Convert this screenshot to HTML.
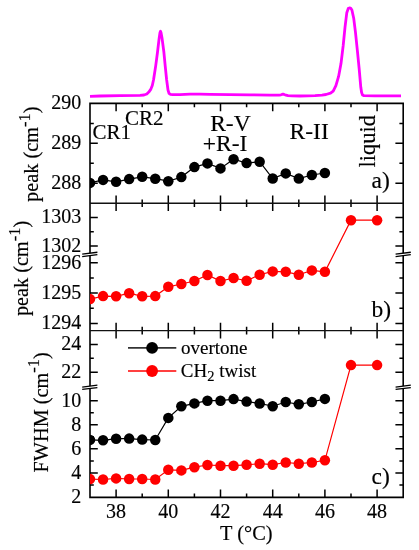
<!DOCTYPE html><html><head><meta charset="utf-8"><title>Plot</title><style>html,body{margin:0;padding:0;background:#fff;width:419px;height:550px;overflow:hidden}svg{display:block}</style></head><body><svg width="419" height="550" viewBox="0 0 419 550" font-family="'Liberation Serif', 'Times New Roman', serif" fill="#000"><style>text{stroke:#000;stroke-width:0.15px}</style><defs><clipPath id="clip"><rect x="90.0" y="103.4" width="313.2" height="394.0"/></clipPath></defs><rect width="419" height="550" fill="#fff"/><path d="M90.0,96.4 L100.0,96.0 L120.0,95.6 L140.0,95.3 L144.0,95.0 L146.8,94.0 L148.8,92.1 L150.9,89.1 L152.3,85.5 L153.6,79.5 L155.7,65.9 L157.5,52.3 L159.1,38.6 L160.0,32.5 L160.5,31.3 L161.0,32.5 L162.1,38.6 L163.9,52.3 L165.2,65.9 L166.6,79.5 L168.0,90.0 L169.0,93.3 L170.5,94.4 L172.7,94.6 L180.0,94.6 L190.0,94.2 L200.0,94.1 L210.0,94.3 L230.0,94.6 L250.0,94.9 L270.0,95.1 L279.0,95.1 L281.0,94.8 L283.0,94.1 L285.0,94.8 L288.0,95.6 L292.0,95.9 L300.0,96.0 L315.0,95.6 L322.0,95.1 L326.0,94.5 L330.5,93.2 L333.2,91.2 L335.9,85.7 L338.6,76.4 L341.0,63.6 L343.2,45.5 L345.0,27.3 L346.8,12.7 L348.2,8.6 L349.5,7.9 L350.8,8.4 L351.9,10.0 L353.7,18.2 L355.5,32.7 L357.4,50.9 L359.2,69.1 L360.8,87.3 L361.6,92.5 L362.5,94.9 L364.1,95.7 L375.0,95.8 L401.0,95.8" fill="none" stroke="#ff00ff" stroke-width="2.8" stroke-linejoin="round" stroke-linecap="butt"/>
<path d="M116.10,103.40V111.20M116.10,195.50V211.10M116.10,322.85V338.45M116.10,489.60V497.40M142.20,103.40V107.20M142.20,199.50V207.10M142.20,326.85V334.45M142.20,493.60V497.40M168.30,103.40V111.20M168.30,195.50V211.10M168.30,322.85V338.45M168.30,489.60V497.40M194.40,103.40V107.20M194.40,199.50V207.10M194.40,326.85V334.45M194.40,493.60V497.40M220.50,103.40V111.20M220.50,195.50V211.10M220.50,322.85V338.45M220.50,489.60V497.40M246.60,103.40V107.20M246.60,199.50V207.10M246.60,326.85V334.45M246.60,493.60V497.40M272.70,103.40V111.20M272.70,195.50V211.10M272.70,322.85V338.45M272.70,489.60V497.40M298.80,103.40V107.20M298.80,199.50V207.10M298.80,326.85V334.45M298.80,493.60V497.40M324.90,103.40V111.20M324.90,195.50V211.10M324.90,322.85V338.45M324.90,489.60V497.40M351.00,103.40V107.20M351.00,199.50V207.10M351.00,326.85V334.45M351.00,493.60V497.40M377.10,103.40V111.20M377.10,195.50V211.10M377.10,322.85V338.45M377.10,489.60V497.40M90.00,123.38H93.80M399.40,123.38H403.20M90.00,143.35H97.80M395.40,143.35H403.20M90.00,163.33H93.80M399.40,163.33H403.20M90.00,183.30H97.80M395.40,183.30H403.20M90.00,217.50H97.80M395.40,217.50H403.20M90.00,231.70H93.80M399.40,231.70H403.20M90.00,245.90H97.80M395.40,245.90H403.20M90.00,262.80H97.80M395.40,262.80H403.20M90.00,277.95H93.80M399.40,277.95H403.20M90.00,293.10H97.80M395.40,293.10H403.20M90.00,308.25H93.80M399.40,308.25H403.20M90.00,323.40H97.80M395.40,323.40H403.20M90.00,344.40H97.80M395.40,344.40H403.20M90.00,358.35H93.80M399.40,358.35H403.20M90.00,372.30H97.80M395.40,372.30H403.20M90.00,400.70H97.80M395.40,400.70H403.20M90.00,412.74H93.80M399.40,412.74H403.20M90.00,424.78H97.80M395.40,424.78H403.20M90.00,436.82H93.80M399.40,436.82H403.20M90.00,448.86H97.80M395.40,448.86H403.20M90.00,460.90H93.80M399.40,460.90H403.20M90.00,472.94H97.80M395.40,472.94H403.20M90.00,484.98H93.80M399.40,484.98H403.20" stroke="#000" stroke-width="1.5" fill="none"/>
<path d="M90.0,103.4H403.2V497.4H90.0Z" stroke="#000" stroke-width="1.6" fill="none"/>
<path d="M90.0,203.3H403.2 M90.0,330.65H403.2" stroke="#111" stroke-width="1.4" fill="none"/>
<polygon points="82.2,254.15 97.39999999999999,252.25000000000003 97.39999999999999,254.65 82.2,256.55" fill="#fff"/>
<path d="M82.2,254.15L97.39999999999999,252.25000000000003M82.2,256.55L97.39999999999999,254.65" stroke="#000" stroke-width="1.35" fill="none"/>
<polygon points="395.59999999999997,254.15 410.8,252.25000000000003 410.8,254.65 395.59999999999997,256.55" fill="#fff"/>
<path d="M395.59999999999997,254.15L410.8,252.25000000000003M395.59999999999997,256.55L410.8,254.65" stroke="#000" stroke-width="1.35" fill="none"/>
<polygon points="82.2,387.05 97.39999999999999,385.15000000000003 97.39999999999999,387.55 82.2,389.45" fill="#fff"/>
<path d="M82.2,387.05L97.39999999999999,385.15000000000003M82.2,389.45L97.39999999999999,387.55" stroke="#000" stroke-width="1.35" fill="none"/>
<polygon points="395.59999999999997,387.05 410.8,385.15000000000003 410.8,387.55 395.59999999999997,389.45" fill="#fff"/>
<path d="M395.59999999999997,387.05L410.8,385.15000000000003M395.59999999999997,389.45L410.8,387.55" stroke="#000" stroke-width="1.35" fill="none"/>
<g clip-path="url(#clip)" fill="#000"><path d="M90.00,182.90 L103.05,179.90 L116.10,181.80 L129.15,179.10 L142.20,176.80 L155.25,178.70 L168.30,181.20 L181.35,177.10 L194.40,167.10 L207.45,163.40 L220.50,168.40 L233.55,159.20 L246.60,163.10 L259.65,161.70 L272.70,178.50 L285.75,173.40 L298.80,178.60 L311.85,175.00 L324.90,173.00" fill="none" stroke="#000" stroke-width="1.2"/><circle cx="90.00" cy="182.90" r="5.25"/><circle cx="103.05" cy="179.90" r="5.25"/><circle cx="116.10" cy="181.80" r="5.25"/><circle cx="129.15" cy="179.10" r="5.25"/><circle cx="142.20" cy="176.80" r="5.25"/><circle cx="155.25" cy="178.70" r="5.25"/><circle cx="168.30" cy="181.20" r="5.25"/><circle cx="181.35" cy="177.10" r="5.25"/><circle cx="194.40" cy="167.10" r="5.25"/><circle cx="207.45" cy="163.40" r="5.25"/><circle cx="220.50" cy="168.40" r="5.25"/><circle cx="233.55" cy="159.20" r="5.25"/><circle cx="246.60" cy="163.10" r="5.25"/><circle cx="259.65" cy="161.70" r="5.25"/><circle cx="272.70" cy="178.50" r="5.25"/><circle cx="285.75" cy="173.40" r="5.25"/><circle cx="298.80" cy="178.60" r="5.25"/><circle cx="311.85" cy="175.00" r="5.25"/><circle cx="324.90" cy="173.00" r="5.25"/></g>
<g clip-path="url(#clip)" fill="#ff0000"><path d="M90.00,299.10 L103.05,296.10 L116.10,296.30 L129.15,293.20 L142.20,296.30 L155.25,296.10 L168.30,286.80 L181.35,284.00 L194.40,281.00 L207.45,275.00 L220.50,281.00 L233.55,278.00 L246.60,280.80 L259.65,274.70 L272.70,271.40 L285.75,271.80 L298.80,274.70 L311.85,270.40 L324.90,271.80 L351.00,220.20 L377.10,220.20" fill="none" stroke="#ff0000" stroke-width="1.2"/><circle cx="90.00" cy="299.10" r="5.25"/><circle cx="103.05" cy="296.10" r="5.25"/><circle cx="116.10" cy="296.30" r="5.25"/><circle cx="129.15" cy="293.20" r="5.25"/><circle cx="142.20" cy="296.30" r="5.25"/><circle cx="155.25" cy="296.10" r="5.25"/><circle cx="168.30" cy="286.80" r="5.25"/><circle cx="181.35" cy="284.00" r="5.25"/><circle cx="194.40" cy="281.00" r="5.25"/><circle cx="207.45" cy="275.00" r="5.25"/><circle cx="220.50" cy="281.00" r="5.25"/><circle cx="233.55" cy="278.00" r="5.25"/><circle cx="246.60" cy="280.80" r="5.25"/><circle cx="259.65" cy="274.70" r="5.25"/><circle cx="272.70" cy="271.40" r="5.25"/><circle cx="285.75" cy="271.80" r="5.25"/><circle cx="298.80" cy="274.70" r="5.25"/><circle cx="311.85" cy="270.40" r="5.25"/><circle cx="324.90" cy="271.80" r="5.25"/><circle cx="351.00" cy="220.20" r="5.25"/><circle cx="377.10" cy="220.20" r="5.25"/></g>
<g clip-path="url(#clip)" fill="#000"><path d="M90.00,439.90 L103.05,440.30 L116.10,438.70 L129.15,438.60 L142.20,439.60 L155.25,440.00 L168.30,417.90 L181.35,406.30 L194.40,403.40 L207.45,400.70 L220.50,400.70 L233.55,399.10 L246.60,401.60 L259.65,403.50 L272.70,406.20 L285.75,402.00 L298.80,404.30 L311.85,402.00 L324.90,398.90" fill="none" stroke="#000" stroke-width="1.2"/><circle cx="90.00" cy="439.90" r="5.25"/><circle cx="103.05" cy="440.30" r="5.25"/><circle cx="116.10" cy="438.70" r="5.25"/><circle cx="129.15" cy="438.60" r="5.25"/><circle cx="142.20" cy="439.60" r="5.25"/><circle cx="155.25" cy="440.00" r="5.25"/><circle cx="168.30" cy="417.90" r="5.25"/><circle cx="181.35" cy="406.30" r="5.25"/><circle cx="194.40" cy="403.40" r="5.25"/><circle cx="207.45" cy="400.70" r="5.25"/><circle cx="220.50" cy="400.70" r="5.25"/><circle cx="233.55" cy="399.10" r="5.25"/><circle cx="246.60" cy="401.60" r="5.25"/><circle cx="259.65" cy="403.50" r="5.25"/><circle cx="272.70" cy="406.20" r="5.25"/><circle cx="285.75" cy="402.00" r="5.25"/><circle cx="298.80" cy="404.30" r="5.25"/><circle cx="311.85" cy="402.00" r="5.25"/><circle cx="324.90" cy="398.90" r="5.25"/></g>
<g clip-path="url(#clip)" fill="#ff0000"><path d="M90.00,479.10 L103.05,479.50 L116.10,478.40 L129.15,479.00 L142.20,479.00 L155.25,479.50 L168.30,469.80 L181.35,470.40 L194.40,467.20 L207.45,465.00 L220.50,465.70 L233.55,465.70 L246.60,464.80 L259.65,463.70 L272.70,464.70 L285.75,462.50 L298.80,463.70 L311.85,462.50 L324.90,460.30 L351.00,365.10 L377.10,365.10" fill="none" stroke="#ff0000" stroke-width="1.2"/><circle cx="90.00" cy="479.10" r="5.25"/><circle cx="103.05" cy="479.50" r="5.25"/><circle cx="116.10" cy="478.40" r="5.25"/><circle cx="129.15" cy="479.00" r="5.25"/><circle cx="142.20" cy="479.00" r="5.25"/><circle cx="155.25" cy="479.50" r="5.25"/><circle cx="168.30" cy="469.80" r="5.25"/><circle cx="181.35" cy="470.40" r="5.25"/><circle cx="194.40" cy="467.20" r="5.25"/><circle cx="207.45" cy="465.00" r="5.25"/><circle cx="220.50" cy="465.70" r="5.25"/><circle cx="233.55" cy="465.70" r="5.25"/><circle cx="246.60" cy="464.80" r="5.25"/><circle cx="259.65" cy="463.70" r="5.25"/><circle cx="272.70" cy="464.70" r="5.25"/><circle cx="285.75" cy="462.50" r="5.25"/><circle cx="298.80" cy="463.70" r="5.25"/><circle cx="311.85" cy="462.50" r="5.25"/><circle cx="324.90" cy="460.30" r="5.25"/><circle cx="351.00" cy="365.10" r="5.25"/><circle cx="377.10" cy="365.10" r="5.25"/></g>
<path d="M128,347.9H176.3" stroke="#333" stroke-width="1.6"/><circle cx="152.1" cy="347.9" r="5.9" fill="#000"/>
<path d="M128,371H176.3" stroke="#ff0000" stroke-width="1.5"/><circle cx="152.1" cy="371" r="5.9" fill="#ff0000"/>
<text x="181" y="354.3" font-size="19">overtone</text>
<text x="180.8" y="376.6" font-size="19">CH<tspan font-size="14.5" dy="4.6">2</tspan><tspan dy="-4.6"> twist</tspan></text>
<g font-size="20.0"><text transform="translate(116.1,517.5) scale(1,1.07)" text-anchor="middle">38</text><text transform="translate(168.3,517.5) scale(1,1.07)" text-anchor="middle">40</text><text transform="translate(220.5,517.5) scale(1,1.07)" text-anchor="middle">42</text><text transform="translate(272.7,517.5) scale(1,1.07)" text-anchor="middle">44</text><text transform="translate(324.9,517.5) scale(1,1.07)" text-anchor="middle">46</text><text transform="translate(377.1,517.5) scale(1,1.07)" text-anchor="middle">48</text><text transform="translate(81.3,109.3) scale(1,1.07)" text-anchor="end">290</text><text transform="translate(81.3,149.3) scale(1,1.07)" text-anchor="end">289</text><text transform="translate(81.3,189.2) scale(1,1.07)" text-anchor="end">288</text><text transform="translate(81.3,223.4) scale(1,1.07)" text-anchor="end">1303</text><text transform="translate(81.3,251.8) scale(1,1.07)" text-anchor="end">1302</text><text transform="translate(81.3,268.7) scale(1,1.07)" text-anchor="end">1296</text><text transform="translate(81.3,299.0) scale(1,1.07)" text-anchor="end">1295</text><text transform="translate(81.3,329.3) scale(1,1.07)" text-anchor="end">1294</text><text transform="translate(81.3,350.3) scale(1,1.07)" text-anchor="end">24</text><text transform="translate(81.3,378.2) scale(1,1.07)" text-anchor="end">22</text><text transform="translate(81.3,406.6) scale(1,1.07)" text-anchor="end">10</text><text transform="translate(81.3,430.7) scale(1,1.07)" text-anchor="end">8</text><text transform="translate(81.3,454.8) scale(1,1.07)" text-anchor="end">6</text><text transform="translate(81.3,478.8) scale(1,1.07)" text-anchor="end">4</text><text transform="translate(81.3,502.9) scale(1,1.07)" text-anchor="end">2</text></g>
<text x="246.3" y="540" text-anchor="middle" font-size="20.4">T (°C)</text>
<text transform="translate(38.3,154.2) rotate(-90)" text-anchor="middle" font-size="20.3">peak (cm<tspan font-size="16.5" dy="-8.3">-1</tspan><tspan dy="8.3">)</tspan></text>
<text transform="translate(27.8,268.4) rotate(-90)" text-anchor="middle" font-size="20.3">peak (cm<tspan font-size="16.5" dy="-8.3">-1</tspan><tspan dy="8.3">)</tspan></text>
<text transform="translate(47.7,412.3) rotate(-90)" text-anchor="middle" font-size="20.3">FWHM (cm<tspan font-size="16.5" dy="-8.3">-1</tspan><tspan dy="8.3">)</tspan></text>
<g font-size="21"><text x="92.4" y="138.5">CR1</text><text x="125" y="125.3">CR2</text><text transform="translate(375.3,141.2) rotate(-90)" text-anchor="middle" font-size="22.5">liquid</text></g>
<g font-size="23.5"><text x="230.4" y="130.6" text-anchor="middle">R-V</text><text x="225.1" y="151.3" text-anchor="middle">+R-I</text><text x="309.2" y="139.3" text-anchor="middle">R-II</text><text x="371.5" y="188">a)</text><text x="371.5" y="316.5">b)</text><text x="371.5" y="484">c)</text></g></svg></body></html>
